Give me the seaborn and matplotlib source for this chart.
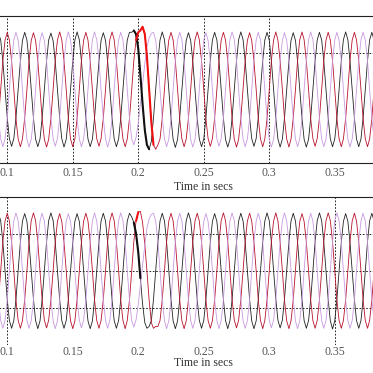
import matplotlib
matplotlib.use("Agg")
import matplotlib.pyplot as plt
import seaborn as sns

# ---------------- data ----------------
# sample times in seconds (one row = one 20 ms cycle)
time_s = [
    0.0935, 0.0952, 0.0968, 0.0985, 0.1002, 0.1018, 0.1035, 0.1052, 0.1068, 0.1085, 0.1102, 0.1118,
    0.1135, 0.1152, 0.1168, 0.1185, 0.1202, 0.1218, 0.1235, 0.1252, 0.1268, 0.1285, 0.1302, 0.1318,
    0.1335, 0.1352, 0.1368, 0.1385, 0.1402, 0.1418, 0.1435, 0.1452, 0.1468, 0.1485, 0.1502, 0.1518,
    0.1535, 0.1552, 0.1568, 0.1585, 0.1602, 0.1618, 0.1635, 0.1652, 0.1668, 0.1685, 0.1702, 0.1718,
    0.1735, 0.1752, 0.1768, 0.1785, 0.1802, 0.1818, 0.1835, 0.1852, 0.1868, 0.1885, 0.1902, 0.1918,
    0.1935, 0.1952, 0.1968, 0.1985, 0.2002, 0.2018, 0.2035, 0.2052, 0.2068, 0.2085, 0.2102, 0.2118,
    0.2135, 0.2152, 0.2168, 0.2185, 0.2202, 0.2218, 0.2235, 0.2252, 0.2268, 0.2285, 0.2302, 0.2318,
    0.2335, 0.2352, 0.2368, 0.2385, 0.2402, 0.2418, 0.2435, 0.2452, 0.2468, 0.2485, 0.2502, 0.2518,
    0.2535, 0.2552, 0.2568, 0.2585, 0.2602, 0.2618, 0.2635, 0.2652, 0.2668, 0.2685, 0.2702, 0.2718,
    0.2735, 0.2752, 0.2768, 0.2785, 0.2802, 0.2818, 0.2835, 0.2852, 0.2868, 0.2885, 0.2902, 0.2918,
    0.2935, 0.2952, 0.2968, 0.2985, 0.3002, 0.3018, 0.3035, 0.3052, 0.3068, 0.3085, 0.3102, 0.3118,
    0.3135, 0.3152, 0.3168, 0.3185, 0.3202, 0.3218, 0.3235, 0.3252, 0.3268, 0.3285, 0.3302, 0.3318,
    0.3335, 0.3352, 0.3368, 0.3385, 0.3402, 0.3418, 0.3435, 0.3452, 0.3468, 0.3485, 0.3502, 0.3518,
    0.3535, 0.3552, 0.3568, 0.3585, 0.3602, 0.3618, 0.3635, 0.3652, 0.3668, 0.3685, 0.3702, 0.3718,
    0.3735, 0.3752, 0.3768, 0.3785, 0.3802,
]

top_phase_a = [
    1.54, 1.33, 0.77, 0, -0.77, -1.33, -1.54, -1.33, -0.77, 0, 0.77, 1.33,
    1.55, 1.34, 0.78, 0, -0.78, -1.34, -1.55, -1.34, -0.78, 0, 0.78, 1.34,
    1.53, 1.32, 0.77, 0, -0.77, -1.33, -1.56, -1.35, -0.78, 0, 0.78, 1.34,
    1.56, 1.35, 0.78, 0, -0.78, -1.34, -1.55, -1.34, -0.78, 0, 0.77, 1.33,
    1.54, 1.33, 0.77, 0, -0.77, -1.34, -1.55, -1.34, -0.78, 0, 0.78, 1.34,
    1.55, 1.55, 1.60, 1.50, 1.10, 0.40, -0.40, -1.10, -1.50, -1.62, -1.40, -0.78,
    0, 0.78, 1.34, 1.56, 1.35, 0.78, 0, -0.78, -1.35, -1.57, -1.35, -0.78,
    0, 0.77, 1.33, 1.54, 1.33, 0.77, 0, -0.78, -1.34, -1.55, -1.34, -0.78,
    0, 0.78, 1.34, 1.55, 1.34, 0.78, 0, -0.78, -1.35, -1.56, -1.35, -0.78,
    0, 0.78, 1.35, 1.56, 1.35, 0.78, 0, -0.77, -1.33, -1.54, -1.33, -0.77,
    0, 0.78, 1.34, 1.55, 1.34, 0.78, 0, -0.78, -1.34, -1.56, -1.34, -0.78,
    0, 0.77, 1.33, 1.54, 1.33, 0.77, 0, -0.78, -1.35, -1.56, -1.35, -0.78,
    0, 0.78, 1.34, 1.55, 1.34, 0.78, 0, -0.78, -1.34, -1.55, -1.34, -0.78,
    0, 0.78, 1.35, 1.56, 1.35, 0.78, 0, -0.78, -1.34, -1.55, -1.34, -0.78,
    0, 0.78, 1.34, 1.55, 1.34,
]

top_phase_b = [
    -0.78, 0, 0.78, 1.34, 1.55, 1.34, 0.78, 0, -0.78, -1.34, -1.55, -1.34,
    -0.77, 0, 0.77, 1.33, 1.54, 1.33, 0.77, 0, -0.78, -1.35, -1.56, -1.35,
    -0.78, 0, 0.78, 1.34, 1.56, 1.35, 0.78, 0, -0.78, -1.34, -1.55, -1.34,
    -0.78, 0, 0.78, 1.34, 1.55, 1.34, 0.78, 0, -0.77, -1.33, -1.54, -1.33,
    -0.78, 0, 0.78, 1.35, 1.56, 1.35, 0.78, 0, -0.78, -1.34, -1.55, -1.34,
    -0.78, 0, 0.78, 1.34, 1.55, 1.60, 1.70, 1.50, 0.90, 0.0, -0.90, -1.50,
    -1.62, -1.50, -1.34, -0.78, 0, 0.78, 1.34, 1.55, 1.34, 0.78, 0, -0.78,
    -1.34, -1.55, -1.34, -0.78, 0, 0.78, 1.35, 1.56, 1.35, 0.78, 0, -0.78,
    -1.33, -1.54, -1.33, -0.77, 0, 0.78, 1.34, 1.55, 1.34, 0.78, 0, -0.78,
    -1.35, -1.56, -1.35, -0.78, 0, 0.77, 1.33, 1.54, 1.33, 0.77, 0, -0.78,
    -1.34, -1.55, -1.34, -0.78, 0, 0.78, 1.34, 1.56, 1.34, 0.78, 0, -0.78,
    -1.34, -1.56, -1.34, -0.78, 0, 0.78, 1.35, 1.56, 1.35, 0.78, 0, -0.78,
    -1.33, -1.54, -1.33, -0.77, 0, 0.78, 1.34, 1.55, 1.34, 0.78, 0, -0.78,
    -1.34, -1.55, -1.34, -0.78, 0, 0.78, 1.34, 1.55, 1.34, 0.78, 0, -0.78,
    -1.34, -1.55, -1.34, -0.78, 0,
]

top_phase_c = [
    -0.78, -1.34, -1.55, -1.34, -0.78, 0, 0.78, 1.34, 1.55, 1.34, 0.78, 0,
    -0.78, -1.35, -1.56, -1.35, -0.78, 0, 0.77, 1.33, 1.54, 1.33, 0.77, 0,
    -0.77, -1.33, -1.54, -1.33, -0.77, 0, 0.78, 1.34, 1.56, 1.35, 0.78, 0,
    -0.78, -1.34, -1.55, -1.34, -0.78, 0, 0.78, 1.35, 1.56, 1.35, 0.78, 0,
    -0.78, -1.34, -1.56, -1.34, -0.78, 0, 0.78, 1.34, 1.55, 1.34, 0.78, 0,
    -0.78, -1.34, -1.50, -1.30, -0.90, -0.40, 0.15, 0.70, 1.15, 1.40, 1.52, 1.55,
    1.34, 0.78, 0, -0.78, -1.34, -1.55, -1.34, -0.78, 0, 0.78, 1.34, 1.55,
    1.35, 0.78, 0, -0.78, -1.35, -1.56, -1.35, -0.78, 0, 0.78, 1.34, 1.54,
    1.33, 0.77, 0, -0.77, -1.33, -1.54, -1.33, -0.77, 0, 0.78, 1.35, 1.56,
    1.35, 0.78, 0, -0.78, -1.34, -1.55, -1.34, -0.78, 0, 0.78, 1.34, 1.55,
    1.34, 0.78, 0, -0.78, -1.35, -1.56, -1.35, -0.78, 0, 0.77, 1.33, 1.54,
    1.33, 0.77, 0, -0.78, -1.34, -1.55, -1.34, -0.78, 0, 0.78, 1.35, 1.56,
    1.35, 0.78, 0, -0.78, -1.34, -1.55, -1.34, -0.78, 0, 0.78, 1.34, 1.55,
    1.34, 0.78, 0, -0.78, -1.34, -1.56, -1.34, -0.78, 0, 0.78, 1.34, 1.55,
    1.34, 0.78, 0, -0.78, -1.34,
]

bottom_phase_a = [
    1.55, 1.34, 0.78, 0, -0.78, -1.34, -1.55, -1.34, -0.78, 0, 0.78, 1.34,
    1.54, 1.33, 0.77, 0, -0.77, -1.34, -1.56, -1.35, -0.78, 0, 0.78, 1.35,
    1.56, 1.35, 0.78, 0, -0.78, -1.34, -1.55, -1.34, -0.78, 0, 0.77, 1.33,
    1.54, 1.33, 0.77, 0, -0.78, -1.35, -1.56, -1.35, -0.78, 0, 0.78, 1.34,
    1.55, 1.34, 0.78, 0, -0.78, -1.34, -1.55, -1.34, -0.78, 0, 0.78, 1.34,
    1.55, 1.45, 1.30, 1.00, 0.50, -0.20, -0.90, -1.40, -1.55, -1.50, -1.34, -0.78,
    0, 0.78, 1.34, 1.55, 1.34, 0.78, 0, -0.78, -1.35, -1.56, -1.35, -0.78,
    0, 0.78, 1.35, 1.56, 1.35, 0.78, 0, -0.78, -1.34, -1.55, -1.34, -0.78,
    0, 0.77, 1.33, 1.54, 1.33, 0.77, 0, -0.78, -1.34, -1.56, -1.34, -0.78,
    0, 0.78, 1.34, 1.55, 1.34, 0.78, 0, -0.78, -1.35, -1.56, -1.35, -0.78,
    0, 0.78, 1.34, 1.56, 1.35, 0.78, 0, -0.77, -1.33, -1.54, -1.33, -0.77,
    0, 0.78, 1.34, 1.55, 1.34, 0.78, 0, -0.78, -1.34, -1.55, -1.34, -0.78,
    0, 0.78, 1.35, 1.56, 1.35, 0.78, 0, -0.78, -1.35, -1.57, -1.35, -0.78,
    0, 0.77, 1.33, 1.54, 1.33, 0.77, 0, -0.78, -1.34, -1.55, -1.34, -0.78,
    0, 0.78, 1.34, 1.55, 1.34,
]

bottom_phase_b = [
    -0.78, 0, 0.78, 1.34, 1.55, 1.34, 0.78, 0, -0.78, -1.34, -1.55, -1.34,
    -0.78, 0, 0.78, 1.35, 1.56, 1.35, 0.78, 0, -0.77, -1.33, -1.54, -1.33,
    -0.77, 0, 0.77, 1.33, 1.54, 1.33, 0.77, 0, -0.78, -1.35, -1.56, -1.35,
    -0.78, 0, 0.78, 1.34, 1.55, 1.34, 0.78, 0, -0.78, -1.34, -1.55, -1.34,
    -0.78, 0, 0.78, 1.34, 1.56, 1.35, 0.78, 0, -0.78, -1.34, -1.56, -1.34,
    -0.78, 0, 0.78, 1.34, 1.58, 1.60, 1.30, 0.70, 0.0, -0.80, -1.40, -1.55,
    -1.50, -1.50, -1.34, -0.78, 0, 0.78, 1.34, 1.55, 1.34, 0.78, 0, -0.78,
    -1.35, -1.56, -1.35, -0.78, 0, 0.78, 1.34, 1.55, 1.34, 0.78, 0, -0.78,
    -1.34, -1.55, -1.34, -0.78, 0, 0.78, 1.35, 1.56, 1.35, 0.78, 0, -0.77,
    -1.33, -1.54, -1.33, -0.77, 0, 0.78, 1.34, 1.55, 1.34, 0.78, 0, -0.78,
    -1.34, -1.56, -1.34, -0.78, 0, 0.78, 1.34, 1.56, 1.34, 0.78, 0, -0.78,
    -1.35, -1.56, -1.35, -0.78, 0, 0.77, 1.33, 1.54, 1.33, 0.77, 0, -0.78,
    -1.34, -1.55, -1.34, -0.78, 0, 0.78, 1.35, 1.56, 1.35, 0.78, 0, -0.78,
    -1.34, -1.55, -1.34, -0.78, 0, 0.78, 1.34, 1.55, 1.34, 0.78, 0, -0.78,
    -1.34, -1.55, -1.34, -0.78, 0,
]

bottom_phase_c = [
    -0.78, -1.34, -1.55, -1.34, -0.78, 0, 0.78, 1.35, 1.56, 1.35, 0.78, 0,
    -0.78, -1.34, -1.55, -1.34, -0.78, 0, 0.78, 1.34, 1.55, 1.34, 0.78, 0,
    -0.78, -1.35, -1.56, -1.35, -0.78, 0, 0.77, 1.33, 1.54, 1.33, 0.77, 0,
    -0.77, -1.33, -1.54, -1.33, -0.77, 0, 0.78, 1.34, 1.56, 1.34, 0.78, 0,
    -0.78, -1.34, -1.55, -1.34, -0.78, 0, 0.78, 1.35, 1.56, 1.35, 0.78, 0,
    -0.78, -1.34, -1.52, -1.32, -0.90, -0.40, 0.15, 0.70, 1.15, 1.40, 1.52, 1.55,
    1.34, 0.78, 0, -0.78, -1.35, -1.56, -1.35, -0.78, 0, 0.78, 1.34, 1.55,
    1.34, 0.78, 0, -0.78, -1.34, -1.55, -1.34, -0.78, 0, 0.77, 1.33, 1.54,
    1.33, 0.77, 0, -0.78, -1.34, -1.56, -1.34, -0.78, 0, 0.78, 1.35, 1.56,
    1.35, 0.78, 0, -0.78, -1.34, -1.55, -1.34, -0.78, 0, 0.78, 1.34, 1.55,
    1.34, 0.78, 0, -0.77, -1.33, -1.54, -1.33, -0.77, 0, 0.78, 1.34, 1.56,
    1.34, 0.78, 0, -0.78, -1.35, -1.56, -1.35, -0.78, 0, 0.78, 1.34, 1.55,
    1.34, 0.78, 0, -0.78, -1.34, -1.55, -1.34, -0.78, 0, 0.78, 1.35, 1.56,
    1.35, 0.78, 0, -0.78, -1.34, -1.55, -1.34, -0.78, 0, 0.78, 1.34, 1.55,
    1.34, 0.78, 0, -0.78, -1.34,
]

x_ticks = [0.1, 0.15, 0.2, 0.25, 0.3, 0.35]
x_tick_labels = ["0.1", "0.15", "0.2", "0.25", "0.3", "0.35"]
x_label = "Time in secs"

# ---------------- style ----------------
sns.set_theme(style="white")
plt.rcParams["font.family"] = ["Liberation Serif", "DejaVu Serif"]

COL_A = "#222222"
COL_B = "#b8122c"
COL_C = "#c999e0"
GRID_KW = dict(color="black", lw=0.6, linestyle=(0, (2, 2)), zorder=0.5)

fig = plt.figure(figsize=(3.73, 3.73), dpi=100)
ax_top = fig.add_axes([-0.3324, 0.5622, 1.756, 0.3957])
ax_bot = fig.add_axes([-0.3324, 0.0751, 1.756, 0.3980])


def draw(ax, a, b, c, vgrid, hgrid, fault_a, fault_b, tick_pad, label_pad):
    for v in vgrid:
        ax.axvline(v, **GRID_KW)
    for h in hgrid:
        ax.axhline(h, **GRID_KW)
    for series, col in ((a, COL_A), (b, COL_B), (c, COL_C)):
        sns.lineplot(x=time_s, y=series, ax=ax, color=col, lw=0.6,
                     estimator=None, sort=False, legend=False)
    # thicker traces during the disturbance
    sns.lineplot(x=time_s[fault_a[0]:fault_a[1]], y=a[fault_a[0]:fault_a[1]], ax=ax,
                 color="#111111", lw=1.5, estimator=None, sort=False, legend=False)
    sns.lineplot(x=time_s[fault_b[0]:fault_b[1]], y=b[fault_b[0]:fault_b[1]], ax=ax,
                 color="#ee1111", lw=1.5, estimator=None, sort=False, legend=False)
    ax.set_xlim(0, 0.5)
    ax.set_ylim(-2, 2)
    ax.set_xticks(x_ticks)
    ax.set_xticklabels(x_tick_labels)
    ax.set_yticks([])
    ax.tick_params(axis="x", length=0, pad=tick_pad, labelsize=8.5, labelcolor="#555555")
    ax.set_xlabel(x_label, fontsize=8.5, color="#333333", labelpad=label_pad)
    ax.set_ylabel("")
    for s in ax.spines.values():
        s.set_color("#222222")
        s.set_linewidth(0.8)


draw(ax_top, top_phase_a, top_phase_b, top_phase_c,
     vgrid=[0.1, 0.15, 0.2, 0.25, 0.3], hgrid=[1],
     fault_a=(62, 70), fault_b=(63, 72), tick_pad=3, label_pad=1)
draw(ax_bot, bottom_phase_a, bottom_phase_b, bottom_phase_c,
     vgrid=[0.1, 0.35], hgrid=[-1, 0, 1],
     fault_a=(62, 66), fault_b=(63, 65), tick_pad=1, label_pad=-1)
ax_bot.spines["bottom"].set_visible(False)

fig.savefig("out.png", dpi=100)
